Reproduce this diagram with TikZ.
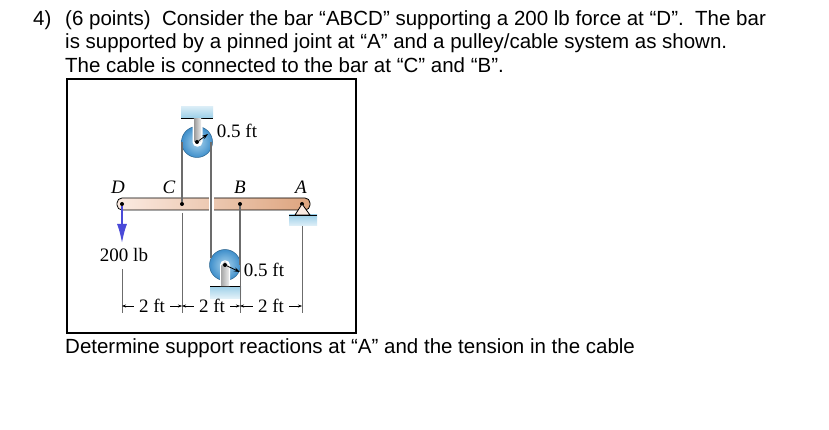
\documentclass[tikz,border=0pt]{standalone}
\usepackage{fontspec}
\usetikzlibrary{arrows.meta}
\setmainfont{Liberation Sans}
\newfontfamily\figfont{Liberation Serif}
\definecolor{pulleyblue}{HTML}{3F8FCB}
\definecolor{pulleypale}{HTML}{A9D3EC}
\definecolor{hatchblue}{HTML}{9CCFE8}
\definecolor{forceblue}{HTML}{4A4AD8}
\definecolor{cablegray}{HTML}{6C6C6C}
\definecolor{barpink}{HTML}{FBEBE2}
\definecolor{bartan}{HTML}{DDA47E}
\tikzset{
  prose/.style={anchor=base west,inner sep=0pt,font=\fontsize{20.5}{22}\selectfont},
  figlabel/.style={inner sep=0pt,font=\figfont\fontsize{19}{20}\selectfont},
  pointlabel/.style={inner sep=0pt,font=\figfont\itshape\fontsize{19}{20}\selectfont},
  pulley/.style={circle,minimum size=31pt,inner sep=0pt,draw=pulleyblue!70!black,line width=0.5pt,inner color=pulleypale,outer color=pulleyblue},
  cable/.style={draw=cablegray,line width=1.2pt},
  extline/.style={draw=cablegray,line width=0.6pt},
  dim/.style={-{Stealth[length=4pt,width=3pt]},line width=0.5pt},
  pin/.style={circle,fill=black,inner sep=0pt,minimum size=4pt}
}
\begin{document}
\begin{tikzpicture}[x=1pt,y=-1pt]
  \useasboundingbox (0,0) rectangle (829,430);
  \fill[white] (0,0) rectangle (829,430);
  % question text
  \node[prose] (num) at (33,26) {4)};
  \node[prose] (line1) at (65,26) {(6 points)\ \ Consider the bar “ABCD” supporting a 200 lb force at “D”.\ \ The bar};
  \node[prose] (line2) at (65,49) {is supported by a pinned joint at “A” and a pulley/cable system as shown.};
  \node[prose] (line3) at (65,73) {The cable is connected to the bar at “C” and “B”.};
  \node[prose] (line4) at (65,353) {Determine support reactions at “A” and the tension in the cable};
  \draw[line width=1.6pt] (67,79) rectangle (356,333);
  % supports
  \shade[top color=hatchblue!40,bottom color=hatchblue] (181,107) rectangle (213,118);
  \draw[line width=0.7pt] (181,118) -- (213,118);
  \shade[top color=hatchblue,bottom color=hatchblue!30] (210,286) rectangle (241,298);
  \draw[line width=0.7pt] (210,286) -- (241,286);
  \shade[top color=hatchblue,bottom color=hatchblue!30] (289,215) rectangle (317,226);
  % pulleys
  \node[pulley] (top) at (197,142) {};
  \node[pulley] (low) at (225,265) {};
  \fill[white] (192.5,119) -- (192.5,142) to[bend right=90,looseness=1.6] (202.5,142) -- (202.5,119) -- cycle;
  \shade[left color=gray!80,right color=gray!15] (194,119) rectangle (201,142);
  \fill[white] (220,286) -- (220,265) to[bend left=90,looseness=1.6] (230,265) -- (230,286) -- cycle;
  \shade[left color=gray!70,right color=gray!15] (221,286) -- (221,266) -- (225,261) -- (229,266) -- (229,286) -- cycle;
  \node[pin] (topaxle) at (197,142) {};
  \node[pin] (lowaxle) at (225,265) {};
  % named points
  \coordinate (D) at (122,204);
  \coordinate (C) at (182,204);
  \coordinate (B) at (240,204);
  \coordinate (A) at (302,204);
  \coordinate (topleft) at (182,142);
  \coordinate (topright) at (211,142);
  \coordinate (lowleft) at (211,258);
  \coordinate (lowright) at (240,265);
  % bar
  \draw[left color=barpink,right color=bartan,line width=0.8pt,rounded corners=5pt] (117,198) rectangle (310,210);
  \node[pin] (Dpin) at (D) {};
  \node[pin] (Cpin) at (C) {};
  \node[pin] (Bpin) at (B) {};
  \node[pin] (Apin) at (A) {};
  \fill[white] (208.5,197) rectangle (213.5,211);
  \draw[line width=0.8pt,fill=barpink] (295,215) -- (A) -- (310,215) -- cycle;
  \draw[line width=0.7pt] (289,215) -- (317,215);
  % cable
  \draw[cable] (Cpin) -- (topleft);
  \draw[cable] (topright) -- (lowleft);
  \draw[cable] (Bpin) -- (lowright);
  % force
  \draw[forceblue,line width=1.6pt,-{Latex[length=19pt,width=10pt]}] (Dpin) -- (122,243);
  % radius arrows
  \draw[-{Stealth[length=6pt,width=4pt]},line width=0.8pt] (topaxle) -- (208,134);
  \draw[-{Stealth[length=6pt,width=4pt]},line width=0.8pt] (lowaxle) -- (240,272);
  % labels
  \node[pointlabel] (labD) at (118,187) {D};
  \node[pointlabel] (labC) at (169,187) {C};
  \node[pointlabel] (labB) at (240,187) {B};
  \node[pointlabel] (labA) at (301,187) {A};
  \node[figlabel] (force) at (124,255) {200 lb};
  \node[figlabel] (rtop) at (237,131) {0.5 ft};
  \node[figlabel] (rlow) at (264,270) {0.5 ft};
  % dimensions
  \coordinate (ext1a) at (122,269);
  \coordinate (ext2a) at (182,213);
  \coordinate (ext3a) at (240,212);
  \coordinate (ext4a) at (302,226);
  \coordinate (ext1) at (122,313);
  \coordinate (ext2) at (182,313);
  \coordinate (ext3) at (240,313);
  \coordinate (ext4) at (302,313);
  \foreach \a/\b in {ext1a/ext1,ext2a/ext2,ext3a/ext3,ext4a/ext4}
    \draw[extline] (\a) -- (\b);
  \node[figlabel,inner xsep=5pt] (dim1) at (152,306) {2 ft};
  \node[figlabel,inner xsep=5pt] (dim2) at (212,306) {2 ft};
  \node[figlabel,inner xsep=5pt] (dim3) at (271,306) {2 ft};
  \draw[dim] (dim1.west) -- (122,306);
  \draw[dim] (dim1.east) -- (182,306);
  \draw[dim] (dim2.west) -- (182,306);
  \draw[dim] (dim2.east) -- (240,306);
  \draw[dim] (dim3.west) -- (240,306);
  \draw[dim] (dim3.east) -- (302,306);
\end{tikzpicture}
\end{document}
